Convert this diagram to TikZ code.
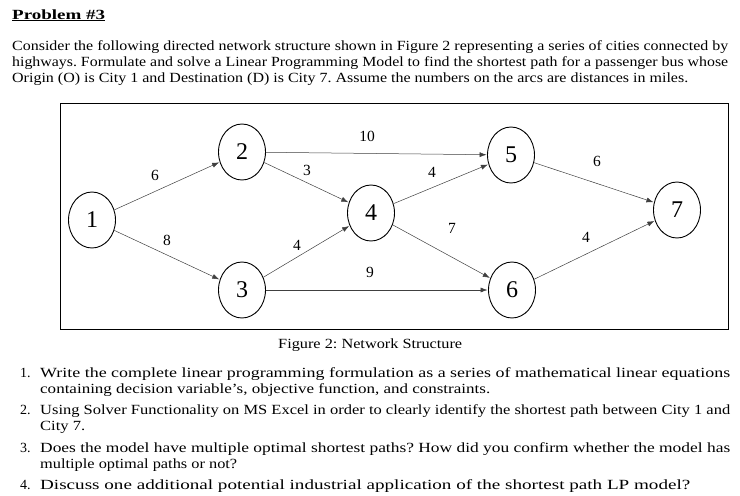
\documentclass[tikz,border=0pt]{standalone}
\usepackage{fontspec}
\setmainfont{Liberation Serif}
\usetikzlibrary{arrows.meta,shapes.geometric}
\newcommand\fitline[2]{\resizebox{#1}{\height}{#2}}
\begin{document}
\frenchspacing
\begin{tikzpicture}[x=1pt,y=-1pt,
  city/.style={draw,ellipse,line width=0.9pt,minimum width=47pt,minimum height=56pt,inner sep=0pt,font=\fontsize{24}{24}\selectfont},
  arc/.style={draw=black!75,line width=0.5pt,-{Latex[length=7pt,width=5pt]},shorten >=0.5pt},
  lab/.style={font=\fontsize{15.5}{15.5}\selectfont},
  txt/.style={anchor=base west,inner sep=0pt,font=\fontsize{14}{16}\selectfont\frenchspacing}]
\useasboundingbox (0,0) rectangle (740,496);
\node[txt] (title) at (12,19) {\fitline{93pt}{\textbf{\underline{Problem \#3}}}};
\node[txt] (p1) at (12,50) {\fitline{716pt}{Consider the following directed network structure shown in Figure 2 representing a series of cities connected by}};
\node[txt] (p2) at (12,66) {\fitline{716pt}{highways. Formulate and solve a Linear Programming Model to find the shortest path for a passenger bus whose}};
\node[txt] (p3) at (12,82) {\fitline{676pt}{Origin (O) is City 1 and Destination (D) is City 7. Assume the numbers on the arcs are distances in miles.}};
\draw[line width=1pt] (60,103) rectangle (728,329);
\node[city] (n1) at (92,220) {1};
\node[city] (n2) at (242,152) {2};
\node[city] (n3) at (242,290) {3};
\node[city] (n4) at (371,213) {4};
\node[city] (n5) at (511,155) {5};
\node[city] (n6) at (512,290) {6};
\node[city] (n7) at (677,210) {7};
\draw[arc] (n1) -- (n2);
\draw[arc] (n1) -- (n3);
\draw[arc] (n2) -- (n4);
\draw[arc] (n3) -- (n4);
\draw[arc] (n2) -- (n5);
\draw[arc] (n3) -- (n6);
\draw[arc] (n4) -- (n5);
\draw[arc] (n4) -- (n6);
\draw[arc] (n5) -- (n7);
\draw[arc] (n6) -- (n7);
\node[lab] (l12) at (155,175) {6};
\node[lab] (l13) at (167,240) {8};
\node[lab] (l24) at (307,170) {3};
\node[lab] (l34) at (297,245) {4};
\node[lab] (l25) at (367,136) {10};
\node[lab] (l36) at (370,272) {9};
\node[lab] (l45) at (432,172) {4};
\node[lab] (l46) at (452,228) {7};
\node[lab] (l57) at (597,161) {6};
\node[lab] (l67) at (586,237) {4};
\node[txt] (cap) at (278,348) {\fitline{184pt}{Figure 2: Network Structure}};
\node[txt] (i1n) at (20,377) {1.};
\node[txt] (i1) at (40,377) {\fitline{690pt}{Write the complete linear programming formulation as a series of mathematical linear equations}};
\node[txt] (i1b) at (40,393) {\fitline{450pt}{containing decision variable’s, objective function, and constraints.}};
\node[txt] (i2n) at (20,414) {2.};
\node[txt] (i2) at (40,414) {\fitline{690pt}{Using Solver Functionality on MS Excel in order to clearly identify the shortest path between City 1 and}};
\node[txt] (i2b) at (40,430) {\fitline{45pt}{City 7.}};
\node[txt] (i3n) at (20,452) {3.};
\node[txt] (i3) at (40,452) {\fitline{690pt}{Does the model have multiple optimal shortest paths? How did you confirm whether the model has}};
\node[txt] (i3b) at (40,468) {\fitline{197pt}{multiple optimal paths or not?}};
\node[txt] (i4n) at (20,489) {4.};
\node[txt] (i4) at (40,489) {\fitline{650pt}{Discuss one additional potential industrial application of the shortest path LP model?}};
\end{tikzpicture}
\end{document}
